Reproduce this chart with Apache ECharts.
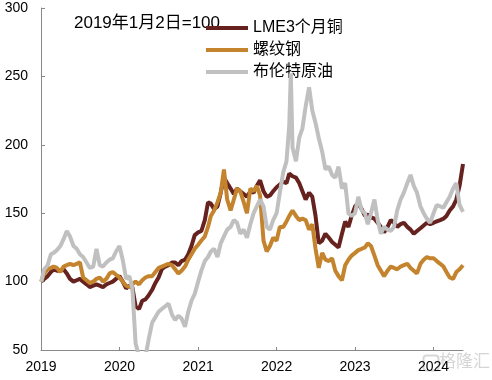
<!DOCTYPE html>
<html>
<head>
<meta charset="utf-8">
<script src="https://cdn.jsdelivr.net/npm/echarts@6/dist/echarts.min.js"></script>
<style>html,body{margin:0;padding:0;background:#fff;}#c{width:492px;height:380px;}</style>
</head>
<body>
<div id="c"></div>
<script>
var dates = [
'2019-01-02','2019-01-16','2019-02-01','2019-02-16','2019-03-01','2019-03-16','2019-04-01','2019-04-16','2019-05-01','2019-05-16','2019-06-01','2019-06-16','2019-07-01','2019-07-16','2019-08-01','2019-08-16','2019-09-01','2019-09-16','2019-10-01','2019-10-16','2019-11-01','2019-11-16','2019-12-01','2019-12-16',
'2020-01-01','2020-01-16','2020-02-01','2020-02-16','2020-03-01','2020-03-16','2020-04-01','2020-04-16','2020-05-01','2020-05-16','2020-06-01','2020-06-16','2020-07-01','2020-07-16','2020-08-01','2020-08-16','2020-09-01','2020-09-16','2020-10-01','2020-10-16','2020-11-01','2020-11-16','2020-12-01','2020-12-16',
'2021-01-01','2021-01-16','2021-02-01','2021-02-16','2021-03-01','2021-03-16','2021-04-01','2021-04-16','2021-05-01','2021-05-16','2021-06-01','2021-06-16','2021-07-01','2021-07-16','2021-08-01','2021-08-16','2021-09-01','2021-09-16','2021-10-01','2021-10-16','2021-11-01','2021-11-16','2021-12-01','2021-12-16',
'2022-01-01','2022-01-16','2022-02-01','2022-02-16','2022-03-01','2022-03-08','2022-03-16','2022-04-01','2022-04-16','2022-05-01','2022-05-16','2022-06-01','2022-06-16','2022-07-01','2022-07-16','2022-08-01','2022-08-16','2022-09-01','2022-09-16','2022-10-01','2022-10-16','2022-11-01','2022-11-16','2022-12-01','2022-12-16',
'2023-01-01','2023-01-16','2023-02-01','2023-02-16','2023-03-01','2023-03-16','2023-04-01','2023-04-16','2023-05-01','2023-05-16','2023-06-01','2023-06-16','2023-07-01','2023-07-16','2023-08-01','2023-08-16','2023-09-01','2023-09-16','2023-10-01','2023-10-16','2023-11-01','2023-11-16','2023-12-01','2023-12-16',
'2024-01-01','2024-01-16','2024-02-01','2024-02-16','2024-03-01','2024-03-16','2024-04-01','2024-04-16','2024-05-01','2024-05-17'
];

var copper = [
100,102,104,107,109,108,108,109,106,102,100,101,102,100,98,96,97,98,97,96,98,99,100,102,
104,100,95,97,96,82,80,86,87,90,94,99,103,109,111,112,114,114,112,115,116,120,126,134,
136,137,145,158,157,153,155,165,176,172,168,164,168,166,164,162,166,165,170,174,166,162,163,166,
169,171,173,172,179,180,177,176,172,166,160,165,162,148,128,130,135,132,129,127,125,135,144,140,148,
155,157,153,148,149,147,146,143,140,136,140,145,143,140,142,143,140,138,135,137,139,141,143,142,
143,144,145,146,148,152,155,160,170,186
];

var rebar = [
100,106,109,110,111,110,107,111,112,113,112,113,114,103,101,99,100,102,103,100,102,106,107,105,
103,100,97,96,98,100,98,101,103,104,104,107,110,111,112,113,112,109,106,108,111,116,120,124,
127,130,133,140,148,152,158,165,182,160,152,160,168,166,158,150,168,166,170,163,130,122,126,132,
130,140,140,144,148,150,152,148,145,146,145,138,142,124,110,121,116,115,117,108,104,101,112,116,119,
121,123,124,125,128,126,119,112,108,104,108,111,110,109,111,112,113,110,108,106,113,116,118,117,
117,115,113,111,107,103,102,107,109,112
];

var brent = [
100,109,112,120,121,123,126,131,137,133,126,124,120,118,114,110,111,124,112,111,114,116,117,122,
126,116,102,104,95,55,45,42,45,58,70,74,78,80,82,84,76,72,75,73,67,78,86,91,
100,108,115,118,122,124,118,128,133,138,140,145,143,135,138,132,142,150,155,160,155,140,138,145,
150,165,180,188,215,252,198,188,205,212,228,242,225,216,205,195,182,184,178,176,184,168,172,150,148,
150,162,152,150,142,150,160,145,135,140,138,137,140,152,160,165,172,178,170,165,155,150,146,143,
150,156,155,154,158,162,168,172,156,151
];

var seriesNames = ['LME3个月铜', '螺纹钢', '布伦特原油'];
var seriesColors = ['#66221f', '#c4832d', '#c0c0c0'];
var yTicks = { min: 50, max: 300, interval: 50 };
var note = '2019年1月2日=100';

function pairs(vals) {
  return vals.map(function (v, i) { return [dates[i], v]; });
}

var chart = echarts.init(document.getElementById('c'), null, { renderer: 'canvas' });
var FONT = '"Liberation Sans", Arial, "Noto Sans CJK SC", sans-serif';
var allVals = [copper, rebar, brent];

chart.setOption({
  animation: false,
  backgroundColor: '#ffffff',
  textStyle: { fontFamily: FONT },
  grid: { left: 41, right: 29, top: 8, bottom: 30, containLabel: false },
  legend: {
    orient: 'vertical',
    left: 201,
    top: 15,
    itemWidth: 42,
    itemHeight: 4,
    itemGap: 6,
    icon: 'rect',
    data: seriesNames,
    textStyle: { fontSize: 16, color: '#000', fontFamily: FONT }
  },
  xAxis: {
    type: 'time',
    min: '2019-01-01',
    max: '2024-05-17',
    splitNumber: 5,
    minInterval: 365 * 24 * 3600 * 1000,
    axisLine: { lineStyle: { color: '#898989', width: 1 } },
    axisTick: { inside: true, length: 3, lineStyle: { color: '#898989' } },
    axisLabel: { formatter: '{yyyy}', color: '#000', fontSize: 14, margin: 10, showMinLabel: true, showMaxLabel: false, fontFamily: FONT },
    splitLine: { show: false }
  },
  yAxis: {
    type: 'value',
    min: yTicks.min,
    max: yTicks.max,
    interval: yTicks.interval,
    axisLine: { show: true, lineStyle: { color: '#898989', width: 1 } },
    axisTick: { show: true, inside: true, length: 4, lineStyle: { color: '#898989' } },
    axisLabel: { color: '#000', fontSize: 14, margin: 13, fontFamily: FONT },
    splitLine: { show: false }
  },
  graphic: [
    { type: 'text', left: 74, top: 15, z: 0, style: { text: note, font: '17px ' + FONT, fill: '#000' } },
    { type: 'rect', left: 421, top: 353, z: 0, shape: { width: 15, height: 15, r: 3 }, style: { fill: 'none', stroke: '#d8d8d8', lineWidth: 2 } },
    { type: 'text', left: 439, top: 352, z: 0, style: { text: '格隆汇', font: '17px "Noto Sans CJK SC", sans-serif', fill: '#d6d6d6' } }
  ],
  series: seriesNames.map(function (n, k) {
    return {
      name: n,
      type: 'line',
      data: pairs(allVals[k]),
      showSymbol: false,
      symbol: 'none',
      clip: true,
      z: 2 + k,
      lineStyle: { color: seriesColors[k], width: 4 },
      itemStyle: { color: seriesColors[k] }
    };
  })
});
</script>
</body>
</html>
